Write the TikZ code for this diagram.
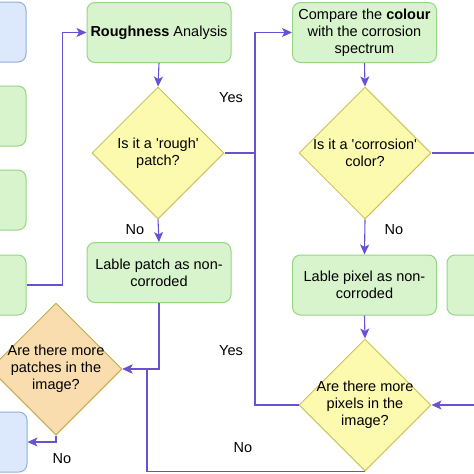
\documentclass[tikz,border=0pt]{standalone}
\usepackage{fontspec}
\setmainfont{Liberation Sans}
\usetikzlibrary{shapes.geometric}
\usetikzlibrary{arrows.meta}
\usetikzlibrary{positioning}

\definecolor{flowline}{RGB}{106,80,212}
\definecolor{greenfill}{HTML}{D8F4CC}
\definecolor{greenedge}{HTML}{96D486}
\definecolor{bluefill}{HTML}{DCE8FC}
\definecolor{blueedge}{HTML}{94AEDC}
\definecolor{yellowfill}{HTML}{FCFAAE}
\definecolor{yellowedge}{HTML}{C8C45E}
\definecolor{orangefill}{HTML}{F9DDAE}
\definecolor{orangeedge}{HTML}{C2AE4E}

\newcommand{\sq}{\textquotesingle}

\tikzset{
	every node/.style={font=\fontsize{14.5}{16.8}\selectfont},
	process/.style={draw=greenedge, fill=greenfill, line width=1pt, rounded corners=8pt,
		minimum width=144, minimum height=60, align=center, inner sep=0pt},
	terminal/.style={process, draw=blueedge, fill=bluefill},
	decision/.style={diamond, draw=yellowedge, fill=yellowfill, line width=1pt,
		minimum width=132, minimum height=132, inner sep=0pt},
	question/.style={decision, draw=orangeedge, fill=orangefill},
	dtext/.style={align=center, inner sep=0pt},
	line/.style={draw=flowline, line width=1.1pt},
	flow/.style={line, -{Stealth[length=10pt, width=9pt, inset=2.5pt]}}
}

\begin{document}
\begin{tikzpicture}[x=1pt, y=-1pt]
	\useasboundingbox (0,0) rectangle (474,474);
	\clip (0,0) rectangle (474,474);

	% cut-off boxes on the left and right
	\node[terminal] (lb1) at (-46,32) {};
	\node[process] (lb2) at (-46,116) {};
	\node[process] (lb3) at (-46,200) {};
	\node[process] (lb4) at (-46,285) {};
	\node[terminal] (lb5) at (-45,442) {};
	\node[process] (rb1) at (519,285) {};

	% patch branch
	\node[process] (ra) at (159,32.5) {\textbf{Roughness} Analysis};
	\node[decision, label={[dtext]center:Is it a \sq rough\sq\\patch?}] (rough) at (158,153) {};
	\node[process] (lpatch) at (159,272.5) {Lable patch as non-\\corroded};
	\node[question, label={[dtext]center:Are there more\\patches in the\\image?}] (patches) at (56,369) {};

	% pixel branch
	\node[process] (comp) at (364.5,32.5) {Compare the \textbf{colour}\\with the corrosion\\spectrum};
	\node[decision, label={[dtext]center:Is it a \sq corrosion\sq\\color?}] (corr) at (365,153) {};
	\node[process] (lpixel) at (364.5,285) {Lable pixel as non-\\corroded};
	\node[decision, label={[dtext]center:Are there more\\pixels in the\\image?}] (pixels) at (365,405) {};

	% junctions
	\coordinate (jy) at (255,153);
	\coordinate (jx) at (147,369);
	\coordinate (offr) at (480,0);

	% connectors
	\draw[flow] (lb4.east) -- ++(36,0) |- (ra.west);
	\draw[flow] (ra.south) -- (rough.north);
	\draw[flow] (rough.south) -- (lpatch.north);
	\draw[flow] (lpatch.south) |- (patches.east);
	\draw[flow] (patches.south) |- (lb5.east);
	\draw[flow] (rough.east) -- (jy) |- (comp.west);
	\draw[line] (pixels.west) -| (jy);
	\draw[flow] (comp.south) -- (corr.north);
	\draw[line] (corr.east) -- (corr.east -| offr);
	\draw[flow] (corr.south) -- (lpixel.north);
	\draw[flow] (lpixel.south) -- (pixels.north);
	\draw[flow] (pixels.east -| offr) -- (pixels.east);
	\draw[flow] (pixels.south) -| (jx) -- (patches.east);

	% connector labels
	\node (yes1) at (231,98) {Yes};
	\node (no1) at (135,230) {No};
	\node (no2) at (394,230) {No};
	\node (yes2) at (231,351) {Yes};
	\node (no3) at (243,448) {No};
	\node (no4) at (62,459) {No};
\end{tikzpicture}
\end{document}
